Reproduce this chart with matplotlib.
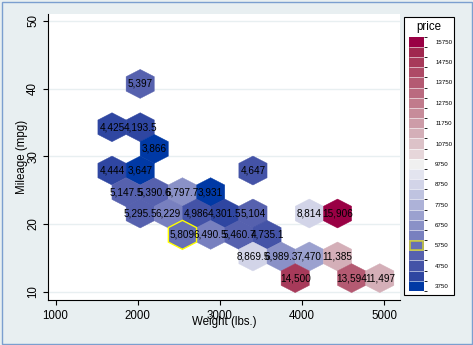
import numpy as np
import matplotlib
matplotlib.use("Agg")
import matplotlib.pyplot as plt
from matplotlib.colors import ListedColormap, BoundaryNorm
from matplotlib.patches import Polygon, Rectangle

plt.rcParams['font.family'] = ['Liberation Sans', 'DejaVu Sans']

# hex bin centres (weight, mpg) and mean price in each bin
weight = [2030, 1687, 2030, 2201, 1687, 2030, 3402,
          1858, 2201, 2544, 2887,
          2030, 2373, 2716, 3059, 3402, 4088, 4431,
          2544, 2887, 3230, 3573,
          3402, 3745, 4088, 4431,
          3916, 4602, 4945]
mpg = [40.7, 34.3, 34.3, 31.1, 27.9, 27.9, 27.9,
       24.7, 24.7, 24.7, 24.7,
       21.55, 21.55, 21.55, 21.55, 21.55, 21.55, 21.55,
       18.4, 18.4, 18.4, 18.4,
       15.2, 15.2, 15.2, 15.2,
       12.0, 12.0, 12.0]
price = [5397, 4425, 4193.5, 3866, 4444, 3647, 4647,
         5147.5, 5390.6, 6797.7, 3931,
         5295.5, 6229, 4986, 4301.5, 5104, 8814, 15906,
         5809, 6490.5, 5460.7, 4735.1,
         8869.5, 6989.3, 7470, 11385,
         14500, 13594, 11497]
highlight = 5809

cuts = np.arange(3500, 16001, 500)
legend_ticks = np.arange(3750, 15751, 1000)

palette = ['#0039a5', '#2f46a1', '#4453a7', '#5661ae', '#6670b6', '#7880bf',
           '#8a91c7', '#9ba1cf', '#adb2d8', '#bfc3e0', '#d2d4e8', '#e3e4ef',
           '#f0f0f0', '#e6d6da', '#dcc2c8', '#d4afb8', '#cd9ca8', '#c78c9a',
           '#c17b8c', '#ba6a7f', '#b45a72', '#ae4a66', '#a73a5a', '#a0284f',
           '#990044']
cmap = ListedColormap(palette)
norm = BoundaryNorm(cuts, cmap.N)

fig = plt.figure(figsize=(4.73, 3.45), dpi=100)
fig.patch.set_facecolor('#e8eff1')
fig.patches.append(Rectangle((1.5 / 473, 1.5 / 345), 470 / 473, 342 / 345,
                             transform=fig.transFigure, fill=False,
                             edgecolor='#7b9fcf', lw=1.0, zorder=-2))

ax = fig.add_axes([48.3 / 473, 45 / 345, 351.7 / 473, 286 / 345])
ax.set_facecolor('white')

hw, hh = 343 / 2, 4.28 / 2
for x, y, p in zip(weight, mpg, price):
    col = cmap(norm(p))
    verts = [(x, y + hh), (x + hw, y + hh / 2), (x + hw, y - hh / 2),
             (x, y - hh), (x - hw, y - hh / 2), (x - hw, y + hh / 2)]
    ec = 'yellow' if p == highlight else col
    lw = 1.0 if p == highlight else 0.3
    ax.add_patch(Polygon(verts, closed=True, facecolor=col, edgecolor=ec,
                         lw=lw, zorder=3 if p == highlight else 2))
for x, y, p in zip(weight, mpg, price):
    lab = f"{p:,.0f}" if float(p).is_integer() else f"{p:,.1f}"
    ax.text(x, y, lab, ha='center', va='center', fontsize=7.2, color='black', zorder=4)

ax.set_xlim(912, 5191)
ax.set_ylim(8.77, 51.03)
ax.set_xticks([1000, 2000, 3000, 4000, 5000])
ax.set_yticks([10, 20, 30, 40, 50])
ax.grid(axis='y', color='#e8eff1', lw=1.0, zorder=0)
ax.set_axisbelow(True)
for s in ['top', 'right']:
    ax.spines[s].set_visible(False)
for s in ['left', 'bottom']:
    ax.spines[s].set_linewidth(0.8)
ax.tick_params(direction='out', length=3.6, width=0.8, labelsize=8.3)
ax.tick_params(axis='y', pad=3)
for lbl in ax.get_yticklabels():
    lbl.set_rotation(90)
    lbl.set_va('center')
    lbl.set_ha('right')

ax.set_xlabel("Weight (lbs.)", fontsize=8.3)
ax.xaxis.label.set_va('center')
ax.xaxis.set_label_coords(0.5, -0.077)
ax.set_ylabel("Mileage (mpg)", fontsize=8.3)
ax.yaxis.label.set_va('center')
ax.yaxis.set_label_coords(-0.0748, 0.5)

# legend box
fig.patches.append(Rectangle((404 / 473, 50 / 345), 50 / 473, 278 / 345,
                             transform=fig.transFigure, facecolor='white',
                             edgecolor='black', lw=0.8, zorder=-1))
fig.text(429 / 473, (345 - 27) / 345, "price", ha='center', va='center', fontsize=8.3)

cax = fig.add_axes([409 / 473, 54 / 345, 15 / 473, 254.3 / 345])
sm = plt.cm.ScalarMappable(norm=norm, cmap=cmap)
cb = fig.colorbar(sm, cax=cax, ticks=legend_ticks, drawedges=True)
cb.outline.set_visible(False)
cb.dividers.set_color('white')
cb.dividers.set_linewidth(0.4)
cb.ax.tick_params(length=0, labelsize=4.4, pad=8)
cb.ax.set_yticklabels([str(t) for t in legend_ticks])
cax.add_patch(Rectangle((0.06, 5530), 0.88, 440, facecolor='none',
                        edgecolor='#cccc33', lw=1.1, zorder=5))

fig.savefig("out.png", dpi=100, facecolor=fig.get_facecolor())
